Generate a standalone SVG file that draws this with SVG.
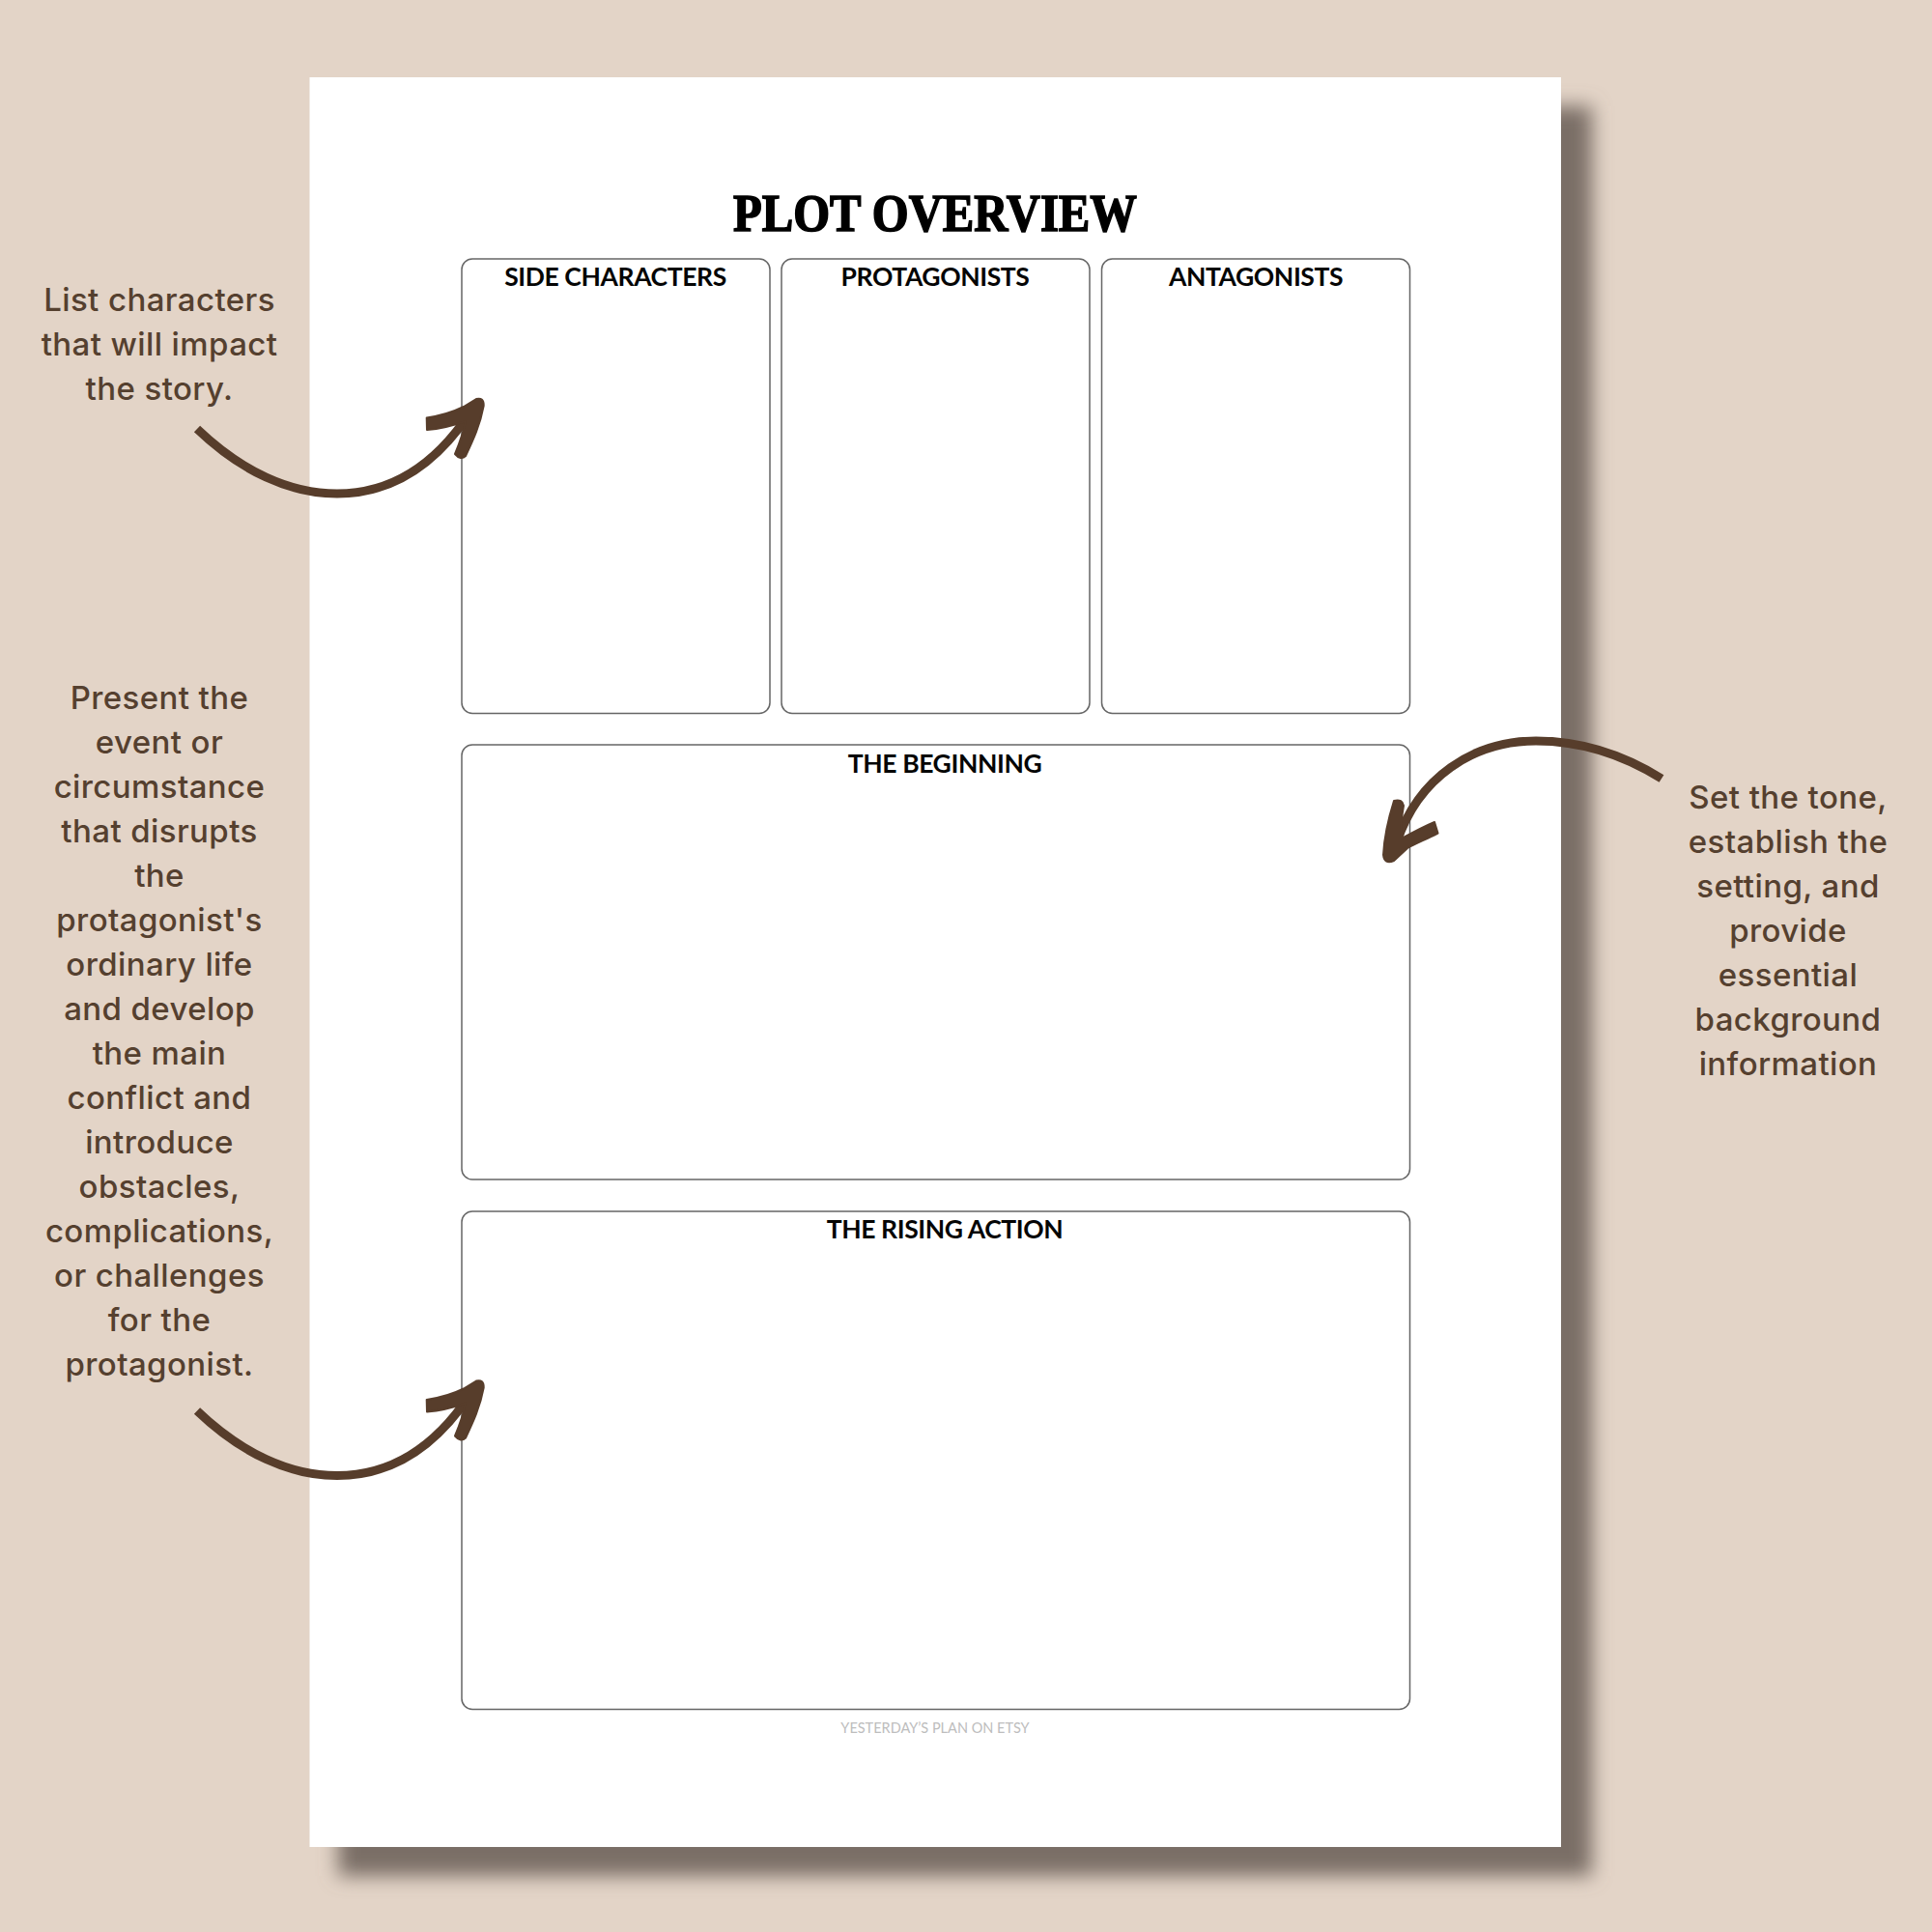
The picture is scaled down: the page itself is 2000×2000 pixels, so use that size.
<svg xmlns="http://www.w3.org/2000/svg" width="2000" height="2000" viewBox="0 0 2000 2000">
<style>
.box{fill:#fff;stroke:#666;stroke-width:1.5}
.lab{font-family:"Lato","Liberation Sans",sans-serif;font-weight:700;font-size:26.500px;fill:#050505;text-anchor:middle;letter-spacing:-.4px}
.note{font-family:"Inter","Liberation Sans",sans-serif;font-weight:500;font-size:33px;fill:#55402f;text-anchor:middle;letter-spacing:.4px}
.shaft{fill:none;stroke:#573d2b;stroke-width:9}
.head{fill:#573d2b;stroke:#573d2b;stroke-width:2;stroke-linejoin:round}
</style>
<defs>
<filter id="blur" x="-10%" y="-10%" width="120%" height="120%"><feGaussianBlur stdDeviation="10"/></filter>
<g id="arr">
<path class="shaft" d="M204,444C250,488 300,511 349,511C405,511 450,482 486,428"/>
<path class="head" d="M441.700,432.500C452,431 468,427 480,421L493,413Q501,411 500.700,420C497,440 490,455 482,472Q477,477 471,470C476,458 480,446 482,436C468,441 455,444 442,445Z"/>
</g>
</defs>
<rect width="2000" height="2000" fill="#e3d4c7"/>
<rect x="350" y="110" width="1298" height="1832" fill="#7a6e66" filter="url(#blur)"/>
<rect x="320.500" y="80" width="1295.500" height="1832" fill="#fff"/>
<text x="968" y="239" text-anchor="middle" textLength="418" lengthAdjust="spacingAndGlyphs" style="font-family:'Liberation Serif',serif;font-weight:700;font-size:54px;stroke:#000;stroke-width:1.6px;fill:#000">PLOT OVERVIEW</text>
<g id="side-characters"><rect class="box" x="478" y="268" width="319" height="470.500" rx="11"/><text class="lab" x="637" y="296">SIDE CHARACTERS</text></g>
<g id="protagonists"><rect class="box" x="809" y="268" width="319" height="470.500" rx="11"/><text class="lab" x="968" y="296">PROTAGONISTS</text></g>
<g id="antagonists"><rect class="box" x="1140.500" y="268" width="319" height="470.500" rx="11"/><text class="lab" x="1300" y="296">ANTAGONISTS</text></g>
<g id="beginning"><rect class="box" x="478" y="771" width="981.500" height="450" rx="11"/><text class="lab" x="978" y="800">THE BEGINNING</text></g>
<g id="rising-action"><rect class="box" x="478" y="1254" width="981.500" height="515.500" rx="11"/><text class="lab" x="978" y="1282">THE RISING ACTION</text></g>
<text x="968" y="1794" text-anchor="middle" style="font-family:'Lato',sans-serif;font-weight:400;font-size:14.500px;fill:#bdbdbd">YESTERDAY’S PLAN ON ETSY</text>
<g id="note-characters"><text class="note" x="165" y="322">List characters</text><text class="note" x="165" y="368">that will impact</text><text class="note" x="165" y="414">the story.</text></g>
<g id="note-disrupt">
<text class="note" x="165" y="734">Present the</text>
<text class="note" x="165" y="780">event or</text>
<text class="note" x="165" y="826">circumstance</text>
<text class="note" x="165" y="872">that disrupts</text>
<text class="note" x="165" y="918">the</text>
<text class="note" x="165" y="964">protagonist's</text>
<text class="note" x="165" y="1010">ordinary life</text>
<text class="note" x="165" y="1056">and develop</text>
<text class="note" x="165" y="1102">the main</text>
<text class="note" x="165" y="1148">conflict and</text>
<text class="note" x="165" y="1194">introduce</text>
<text class="note" x="165" y="1240">obstacles,</text>
<text class="note" x="165" y="1286">complications,</text>
<text class="note" x="165" y="1332">or challenges</text>
<text class="note" x="165" y="1378">for the</text>
<text class="note" x="165" y="1424">protagonist.</text>
</g>
<g id="note-tone">
<text class="note" x="1851" y="837">Set the tone,</text>
<text class="note" x="1851" y="883">establish the</text>
<text class="note" x="1851" y="929">setting, and</text>
<text class="note" x="1851" y="975">provide</text>
<text class="note" x="1851" y="1021">essential</text>
<text class="note" x="1851" y="1067">background</text>
<text class="note" x="1851" y="1113">information</text>
</g>
<g id="connectors">
<use href="#arr"/>
<use href="#arr" y="1016.500"/>
<path class="shaft" d="M1720,806C1680,781 1635,767 1590,767C1525,767 1468,805 1446,872"/>
<path class="head" d="M1443,829Q1452,827 1453,834C1451,845 1450,857 1451,868C1462,862 1473,856 1485,851L1488.500,862.500C1476,869 1466,873 1457,878L1443,891Q1433,895 1432,885C1433,865 1437,848 1443,829Z"/>
</g>
</svg>
